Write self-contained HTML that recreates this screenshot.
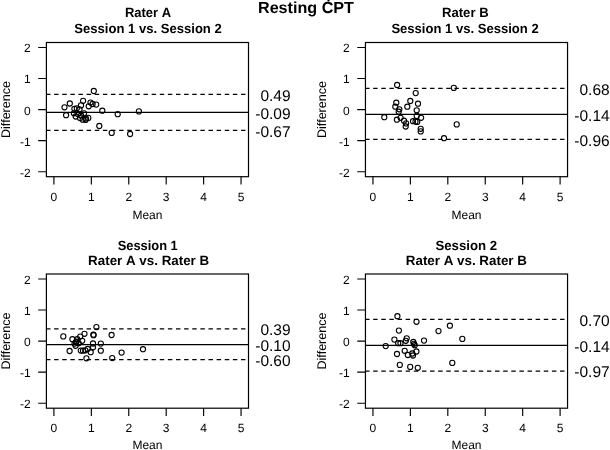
<!DOCTYPE html><html><head><meta charset="utf-8"><title>Resting CPT</title><style>html,body{margin:0;padding:0;background:#fff;}svg{display:block;}text{font-family:"Liberation Sans",Arial,sans-serif;fill:#000;font-kerning:none;text-rendering:geometricPrecision;}</style></head><body>
<svg width="610" height="450" viewBox="0 0 610 450">
<rect width="610" height="450" fill="#fff"/>
<text id="title" x="305.95" y="12.50" font-size="16" font-weight="bold" text-anchor="middle" textLength="95.93" lengthAdjust="spacingAndGlyphs">Resting CPT</text>
<path d="M327.3 0H329.7L329.2 1.4H327.8Z" fill="#000"/>
<text id="p1t1" x="148.05" y="17.00" font-size="13.3" font-weight="bold" text-anchor="middle" textLength="46.20" lengthAdjust="spacingAndGlyphs">Rater A</text>
<text id="p1t2" x="148.05" y="32.90" font-size="13.3" font-weight="bold" text-anchor="middle" textLength="147.45" lengthAdjust="spacingAndGlyphs">Session 1 vs. Session 2</text>
<g transform="translate(0,0)">
<rect x="46.4" y="42.5" width="202.10" height="134.20" fill="none" stroke="#000" stroke-width="1.2"/>
<path d="M38.2 171.72H46.4 M38.2 140.66H46.4 M38.2 109.60H46.4 M38.2 78.54H46.4 M38.2 47.48H46.4 M53.90 176.7V184.5 M91.33 176.7V184.5 M128.76 176.7V184.5 M166.19 176.7V184.5 M203.62 176.7V184.5 M241.05 176.7V184.5" stroke="#000" stroke-width="1.15" fill="none"/>
<text x="30.6" y="176.67" font-size="12" text-anchor="end">-2</text>
<text x="30.6" y="145.61" font-size="12" text-anchor="end">-1</text>
<text x="30.6" y="114.55" font-size="12" text-anchor="end">0</text>
<text x="30.6" y="83.49" font-size="12" text-anchor="end">1</text>
<text x="30.6" y="52.43" font-size="12" text-anchor="end">2</text>
<text x="53.90" y="200.7" font-size="12" text-anchor="middle">0</text>
<text x="91.33" y="200.7" font-size="12" text-anchor="middle">1</text>
<text x="128.76" y="200.7" font-size="12" text-anchor="middle">2</text>
<text x="166.19" y="200.7" font-size="12" text-anchor="middle">3</text>
<text x="203.62" y="200.7" font-size="12" text-anchor="middle">4</text>
<text x="241.05" y="200.7" font-size="12" text-anchor="middle">5</text>
<text x="147.45" y="219.0" font-size="12" text-anchor="middle">Mean</text>
<text transform="translate(9.7,109.60) rotate(-90)" font-size="12.5" text-anchor="middle">Difference</text>
<path d="M46.0 94.38H248.5M46.0 130.41H248.5" stroke="#000" stroke-width="1.25" stroke-dasharray="4.45 3.675" fill="none"/>
<path d="M46.4 112.40H248.5" stroke="#000" stroke-width="1.25" fill="none"/>
<text transform="translate(290.6,100.58)" font-size="15.5" text-anchor="end">0.49</text>
<text transform="translate(290.6,118.60)" font-size="15.5" text-anchor="end">-0.09</text>
<text transform="translate(290.6,136.61)" font-size="15.5" text-anchor="end">-0.67</text>
</g>
<g fill="none" stroke="#000" stroke-width="1.1"><circle cx="93.80" cy="91.00" r="2.58"/><circle cx="69.80" cy="103.50" r="2.58"/><circle cx="64.50" cy="107.30" r="2.58"/><circle cx="83.10" cy="100.80" r="2.58"/><circle cx="81.00" cy="105.40" r="2.58"/><circle cx="90.50" cy="102.60" r="2.58"/><circle cx="88.70" cy="106.30" r="2.58"/><circle cx="96.20" cy="104.60" r="2.58"/><circle cx="92.60" cy="104.00" r="2.58"/><circle cx="66.10" cy="115.20" r="2.58"/><circle cx="76.80" cy="108.30" r="2.58"/><circle cx="74.40" cy="108.80" r="2.58"/><circle cx="79.50" cy="109.30" r="2.58"/><circle cx="73.90" cy="113.30" r="2.58"/><circle cx="77.90" cy="114.10" r="2.58"/><circle cx="75.70" cy="116.50" r="2.58"/><circle cx="81.10" cy="115.50" r="2.58"/><circle cx="84.00" cy="113.30" r="2.58"/><circle cx="80.00" cy="118.10" r="2.58"/><circle cx="82.70" cy="119.70" r="2.58"/><circle cx="86.00" cy="118.60" r="2.58"/><circle cx="88.30" cy="117.90" r="2.58"/><circle cx="102.30" cy="110.70" r="2.58"/><circle cx="117.70" cy="114.20" r="2.58"/><circle cx="138.90" cy="111.40" r="2.58"/><circle cx="99.30" cy="126.00" r="2.58"/><circle cx="111.70" cy="132.90" r="2.58"/><circle cx="130.10" cy="134.00" r="2.58"/><circle cx="85.60" cy="119.90" r="2.58"/></g>
<text id="p2t1" x="465.32" y="17.00" font-size="13.3" font-weight="bold" text-anchor="middle" textLength="46.65" lengthAdjust="spacingAndGlyphs">Rater B</text>
<text id="p2t2" x="465.05" y="32.90" font-size="13.3" font-weight="bold" text-anchor="middle" textLength="147.35" lengthAdjust="spacingAndGlyphs">Session 1 vs. Session 2</text>
<g transform="translate(319.05,0)">
<rect x="46.4" y="42.5" width="202.10" height="134.20" fill="none" stroke="#000" stroke-width="1.2"/>
<path d="M38.2 171.72H46.4 M38.2 140.66H46.4 M38.2 109.60H46.4 M38.2 78.54H46.4 M38.2 47.48H46.4 M53.90 176.7V184.5 M91.33 176.7V184.5 M128.76 176.7V184.5 M166.19 176.7V184.5 M203.62 176.7V184.5 M241.05 176.7V184.5" stroke="#000" stroke-width="1.15" fill="none"/>
<text x="30.6" y="176.67" font-size="12" text-anchor="end">-2</text>
<text x="30.6" y="145.61" font-size="12" text-anchor="end">-1</text>
<text x="30.6" y="114.55" font-size="12" text-anchor="end">0</text>
<text x="30.6" y="83.49" font-size="12" text-anchor="end">1</text>
<text x="30.6" y="52.43" font-size="12" text-anchor="end">2</text>
<text x="53.90" y="200.7" font-size="12" text-anchor="middle">0</text>
<text x="91.33" y="200.7" font-size="12" text-anchor="middle">1</text>
<text x="128.76" y="200.7" font-size="12" text-anchor="middle">2</text>
<text x="166.19" y="200.7" font-size="12" text-anchor="middle">3</text>
<text x="203.62" y="200.7" font-size="12" text-anchor="middle">4</text>
<text x="241.05" y="200.7" font-size="12" text-anchor="middle">5</text>
<text x="147.45" y="219.0" font-size="12" text-anchor="middle">Mean</text>
<text transform="translate(6.85,109.60) rotate(-90)" font-size="12.5" text-anchor="middle">Difference</text>
<path d="M46.0 88.48H248.5M46.0 139.42H248.5" stroke="#000" stroke-width="1.25" stroke-dasharray="4.45 3.675" fill="none"/>
<path d="M46.4 114.37H248.5" stroke="#000" stroke-width="1.25" fill="none"/>
<text transform="translate(290.6,94.68)" font-size="15.5" text-anchor="end">0.68</text>
<text transform="translate(290.6,120.57)" font-size="15.5" text-anchor="end">-0.14</text>
<text transform="translate(290.6,145.62)" font-size="15.5" text-anchor="end">-0.96</text>
</g>
<g fill="none" stroke="#000" stroke-width="1.1"><circle cx="397.10" cy="85.00" r="2.58"/><circle cx="453.80" cy="87.90" r="2.58"/><circle cx="415.70" cy="93.10" r="2.58"/><circle cx="396.30" cy="102.70" r="2.58"/><circle cx="395.30" cy="106.70" r="2.58"/><circle cx="399.30" cy="109.30" r="2.58"/><circle cx="398.70" cy="111.70" r="2.58"/><circle cx="410.30" cy="101.00" r="2.58"/><circle cx="407.30" cy="106.70" r="2.58"/><circle cx="418.00" cy="103.70" r="2.58"/><circle cx="416.70" cy="110.30" r="2.58"/><circle cx="384.30" cy="117.20" r="2.58"/><circle cx="396.90" cy="119.70" r="2.58"/><circle cx="400.60" cy="117.80" r="2.58"/><circle cx="404.00" cy="120.70" r="2.58"/><circle cx="406.10" cy="123.40" r="2.58"/><circle cx="405.70" cy="126.50" r="2.58"/><circle cx="416.70" cy="115.90" r="2.58"/><circle cx="421.10" cy="117.80" r="2.58"/><circle cx="413.00" cy="121.20" r="2.58"/><circle cx="415.50" cy="121.60" r="2.58"/><circle cx="417.20" cy="121.90" r="2.58"/><circle cx="420.70" cy="128.80" r="2.58"/><circle cx="420.70" cy="131.40" r="2.58"/><circle cx="456.70" cy="124.40" r="2.58"/><circle cx="444.00" cy="138.20" r="2.58"/></g>
<text id="p3t1" x="147.73" y="249.60" font-size="13.3" font-weight="bold" text-anchor="middle" textLength="60.14" lengthAdjust="spacingAndGlyphs">Session 1</text>
<text id="p3t2" x="148.65" y="265.30" font-size="13.3" font-weight="bold" text-anchor="middle" textLength="121.07" lengthAdjust="spacingAndGlyphs">Rater A vs. Rater B</text>
<g transform="translate(0,231.5)">
<rect x="46.4" y="42.5" width="202.10" height="134.20" fill="none" stroke="#000" stroke-width="1.2"/>
<path d="M38.2 171.72H46.4 M38.2 140.66H46.4 M38.2 109.60H46.4 M38.2 78.54H46.4 M38.2 47.48H46.4 M53.90 176.7V184.5 M91.33 176.7V184.5 M128.76 176.7V184.5 M166.19 176.7V184.5 M203.62 176.7V184.5 M241.05 176.7V184.5" stroke="#000" stroke-width="1.15" fill="none"/>
<text x="30.6" y="176.67" font-size="12" text-anchor="end">-2</text>
<text x="30.6" y="145.61" font-size="12" text-anchor="end">-1</text>
<text x="30.6" y="114.55" font-size="12" text-anchor="end">0</text>
<text x="30.6" y="83.49" font-size="12" text-anchor="end">1</text>
<text x="30.6" y="52.43" font-size="12" text-anchor="end">2</text>
<text x="53.90" y="200.7" font-size="12" text-anchor="middle">0</text>
<text x="91.33" y="200.7" font-size="12" text-anchor="middle">1</text>
<text x="128.76" y="200.7" font-size="12" text-anchor="middle">2</text>
<text x="166.19" y="200.7" font-size="12" text-anchor="middle">3</text>
<text x="203.62" y="200.7" font-size="12" text-anchor="middle">4</text>
<text x="241.05" y="200.7" font-size="12" text-anchor="middle">5</text>
<text x="147.45" y="217.3" font-size="12" text-anchor="middle">Mean</text>
<text transform="translate(9.7,109.60) rotate(-90)" font-size="12.5" text-anchor="middle">Difference</text>
<path d="M46.0 97.49H248.5M46.0 128.24H248.5" stroke="#000" stroke-width="1.25" stroke-dasharray="4.45 3.675" fill="none"/>
<path d="M46.4 113.01H248.5" stroke="#000" stroke-width="1.25" fill="none"/>
<text transform="translate(290.6,103.69)" font-size="15.5" text-anchor="end">0.39</text>
<text transform="translate(290.6,119.21)" font-size="15.5" text-anchor="end">-0.10</text>
<text transform="translate(290.6,134.44)" font-size="15.5" text-anchor="end">-0.60</text>
</g>
<g fill="none" stroke="#000" stroke-width="1.1"><circle cx="96.40" cy="327.10" r="2.58"/><circle cx="63.30" cy="336.40" r="2.58"/><circle cx="84.50" cy="333.80" r="2.58"/><circle cx="93.40" cy="334.70" r="2.58"/><circle cx="93.60" cy="335.20" r="2.58"/><circle cx="111.60" cy="335.00" r="2.58"/><circle cx="72.40" cy="339.20" r="2.58"/><circle cx="80.20" cy="336.60" r="2.58"/><circle cx="77.30" cy="339.20" r="2.58"/><circle cx="82.20" cy="340.80" r="2.58"/><circle cx="75.80" cy="342.20" r="2.58"/><circle cx="75.60" cy="345.80" r="2.58"/><circle cx="93.00" cy="343.50" r="2.58"/><circle cx="93.00" cy="347.30" r="2.58"/><circle cx="100.80" cy="343.60" r="2.58"/><circle cx="100.80" cy="350.70" r="2.58"/><circle cx="69.60" cy="351.00" r="2.58"/><circle cx="80.80" cy="350.60" r="2.58"/><circle cx="83.00" cy="350.70" r="2.58"/><circle cx="85.30" cy="350.30" r="2.58"/><circle cx="87.70" cy="349.00" r="2.58"/><circle cx="90.70" cy="352.20" r="2.58"/><circle cx="86.40" cy="358.30" r="2.58"/><circle cx="121.60" cy="352.60" r="2.58"/><circle cx="143.00" cy="349.20" r="2.58"/><circle cx="112.20" cy="358.10" r="2.58"/><circle cx="76.60" cy="341.60" r="2.58"/><circle cx="78.60" cy="343.20" r="2.58"/><circle cx="74.60" cy="343.60" r="2.58"/></g>
<text id="p4t1" x="466.30" y="249.60" font-size="13.3" font-weight="bold" text-anchor="middle" textLength="61.69" lengthAdjust="spacingAndGlyphs">Session 2</text>
<text id="p4t2" x="466.38" y="265.30" font-size="13.3" font-weight="bold" text-anchor="middle" textLength="121.12" lengthAdjust="spacingAndGlyphs">Rater A vs. Rater B</text>
<g transform="translate(319.05,231.5)">
<rect x="46.4" y="42.5" width="202.10" height="134.20" fill="none" stroke="#000" stroke-width="1.2"/>
<path d="M38.2 171.72H46.4 M38.2 140.66H46.4 M38.2 109.60H46.4 M38.2 78.54H46.4 M38.2 47.48H46.4 M53.90 176.7V184.5 M91.33 176.7V184.5 M128.76 176.7V184.5 M166.19 176.7V184.5 M203.62 176.7V184.5 M241.05 176.7V184.5" stroke="#000" stroke-width="1.15" fill="none"/>
<text x="30.6" y="176.67" font-size="12" text-anchor="end">-2</text>
<text x="30.6" y="145.61" font-size="12" text-anchor="end">-1</text>
<text x="30.6" y="114.55" font-size="12" text-anchor="end">0</text>
<text x="30.6" y="83.49" font-size="12" text-anchor="end">1</text>
<text x="30.6" y="52.43" font-size="12" text-anchor="end">2</text>
<text x="53.90" y="200.7" font-size="12" text-anchor="middle">0</text>
<text x="91.33" y="200.7" font-size="12" text-anchor="middle">1</text>
<text x="128.76" y="200.7" font-size="12" text-anchor="middle">2</text>
<text x="166.19" y="200.7" font-size="12" text-anchor="middle">3</text>
<text x="203.62" y="200.7" font-size="12" text-anchor="middle">4</text>
<text x="241.05" y="200.7" font-size="12" text-anchor="middle">5</text>
<text x="147.45" y="217.3" font-size="12" text-anchor="middle">Mean</text>
<text transform="translate(6.85,109.60) rotate(-90)" font-size="12.5" text-anchor="middle">Difference</text>
<path d="M46.0 87.86H248.5M46.0 139.73H248.5" stroke="#000" stroke-width="1.25" stroke-dasharray="4.45 3.675" fill="none"/>
<path d="M46.4 113.95H248.5" stroke="#000" stroke-width="1.25" fill="none"/>
<text transform="translate(290.6,94.06)" font-size="15.5" text-anchor="end">0.70</text>
<text transform="translate(290.6,120.15)" font-size="15.5" text-anchor="end">-0.14</text>
<text transform="translate(290.6,145.93)" font-size="15.5" text-anchor="end">-0.97</text>
</g>
<g fill="none" stroke="#000" stroke-width="1.1"><circle cx="397.40" cy="316.20" r="2.58"/><circle cx="416.50" cy="321.80" r="2.58"/><circle cx="449.90" cy="325.70" r="2.58"/><circle cx="398.90" cy="330.60" r="2.58"/><circle cx="438.50" cy="331.10" r="2.58"/><circle cx="462.30" cy="338.90" r="2.58"/><circle cx="394.40" cy="339.60" r="2.58"/><circle cx="406.70" cy="338.30" r="2.58"/><circle cx="405.80" cy="340.80" r="2.58"/><circle cx="424.00" cy="340.60" r="2.58"/><circle cx="398.20" cy="343.20" r="2.58"/><circle cx="400.50" cy="343.20" r="2.58"/><circle cx="413.30" cy="342.00" r="2.58"/><circle cx="414.00" cy="343.80" r="2.58"/><circle cx="414.70" cy="345.20" r="2.58"/><circle cx="385.70" cy="346.10" r="2.58"/><circle cx="404.70" cy="350.80" r="2.58"/><circle cx="397.00" cy="354.00" r="2.58"/><circle cx="407.80" cy="355.00" r="2.58"/><circle cx="412.30" cy="353.50" r="2.58"/><circle cx="413.00" cy="355.50" r="2.58"/><circle cx="416.40" cy="351.50" r="2.58"/><circle cx="399.80" cy="364.90" r="2.58"/><circle cx="410.20" cy="366.90" r="2.58"/><circle cx="417.80" cy="367.80" r="2.58"/><circle cx="452.30" cy="362.90" r="2.58"/></g>
</svg></body></html>
